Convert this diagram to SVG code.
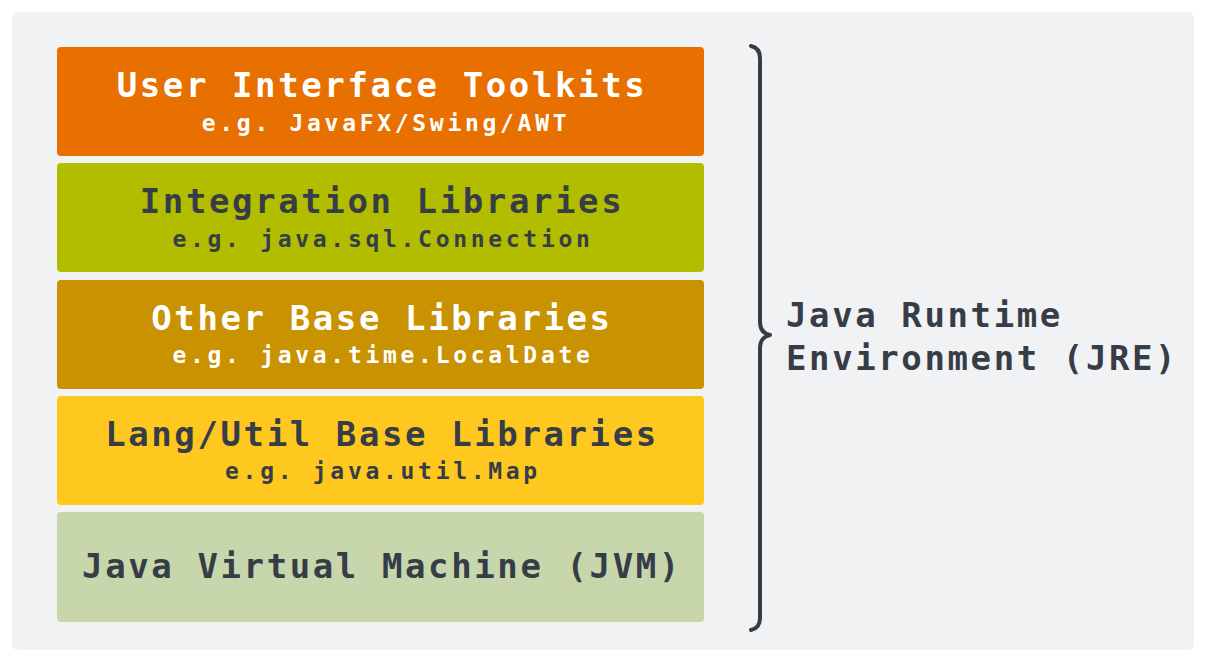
<svg xmlns="http://www.w3.org/2000/svg" width="1214" height="666" viewBox="0 0 1214 666">
<style>
.t{font-family:"DejaVu Sans Mono","Liberation Mono",monospace;font-weight:bold;font-size:34px;letter-spacing:2.6px;text-anchor:middle}
.s{font-family:"DejaVu Sans Mono","Liberation Mono",monospace;font-weight:bold;font-size:23px;letter-spacing:3.7px;text-anchor:middle}
.w{fill:#ffffff}
.d{fill:#373d47}
.lbl{font-family:"DejaVu Sans Mono","Liberation Mono",monospace;font-weight:bold;font-size:34px;letter-spacing:2.6px;fill:#373d47}
</style>
<rect x="0" y="0" width="1214" height="666" fill="#ffffff"/>
<rect x="12" y="12" width="1182" height="638" rx="6" fill="#f1f2f4"/>
<g id="ui">
<rect x="57" y="47" width="647" height="109" rx="4" fill="#e87000"/>
<text class="t w" x="382" y="97">User Interface Toolkits</text>
<text class="s w" x="386" y="131">e.g. JavaFX/Swing/AWT</text>
</g>
<g id="integration">
<rect x="57" y="163" width="647" height="109" rx="4" fill="#b2bd00"/>
<text class="t d" x="382" y="213">Integration Libraries</text>
<text class="s d" x="383" y="247">e.g. java.sql.Connection</text>
</g>
<g id="otherbase">
<rect x="57" y="280" width="647" height="109" rx="4" fill="#c89200"/>
<text class="t w" x="382" y="330">Other Base Libraries</text>
<text class="s w" x="383" y="363">e.g. java.time.LocalDate</text>
</g>
<g id="langutil">
<rect x="57" y="396" width="647" height="109" rx="4" fill="#ffc81f"/>
<text class="t d" x="382" y="446">Lang/Util Base Libraries</text>
<text class="s d" x="383" y="479">e.g. java.util.Map</text>
</g>
<g id="jvm">
<rect x="57" y="512" width="647" height="110" rx="4" fill="#c7d6ab"/>
<text class="t d" x="382" y="578">Java Virtual Machine (JVM)</text>
</g>
<g id="connectors">
<path d="M751 46 Q760 48 760 58 L760 322 Q760 333 770 335 Q760 337 760 348 L760 618 Q760 628 751 630" fill="none" stroke="#373d47" stroke-width="4" stroke-linecap="round" stroke-linejoin="round"/>
</g>
<g id="jre">
<text class="lbl" x="786" y="327">Java Runtime</text>
<text class="lbl" x="786" y="370">Environment (JRE)</text>
</g>
</svg>
